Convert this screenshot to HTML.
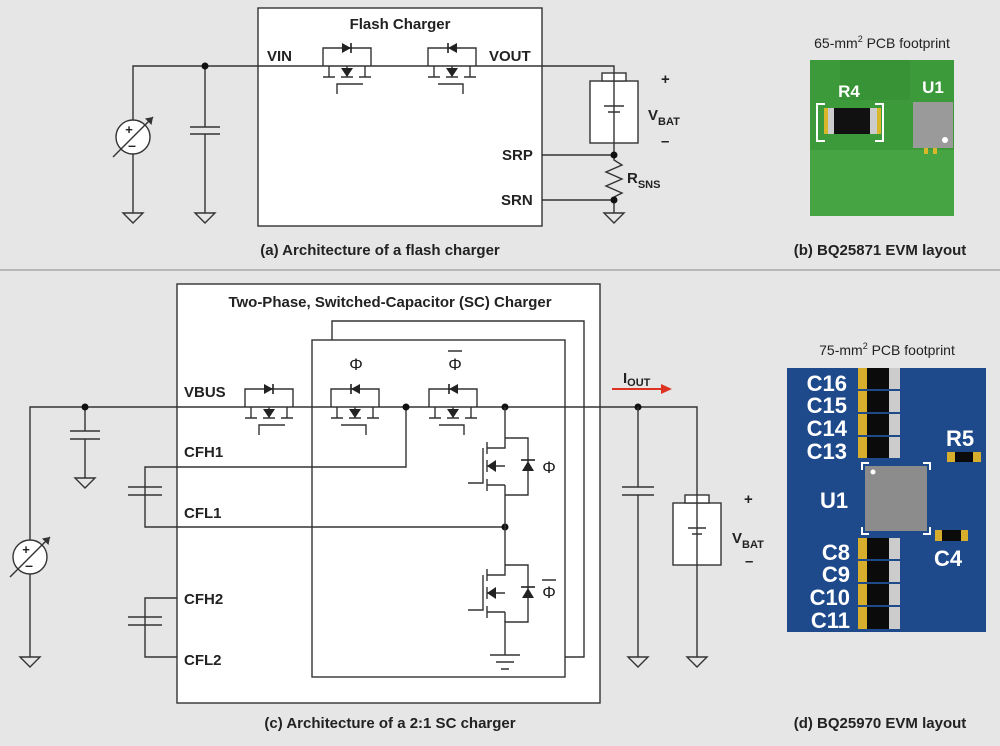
<!DOCTYPE html>
<html><head><meta charset="utf-8"><style>
html,body{margin:0;padding:0;background:#e6e6e6}
svg{display:block}
text{font-family:"Liberation Sans",Arial,sans-serif}
.l{font-weight:bold;font-size:15px;fill:#222}
.cap{font-family:"Liberation Sans Narrow","Liberation Sans",sans-serif;font-weight:bold;font-size:15px;fill:#222}
.pcb{font-family:"Liberation Sans Narrow","Liberation Sans",sans-serif;font-size:14px;fill:#222}
.w{fill:none;stroke:#333;stroke-width:1.4}
.pl{font-weight:bold;fill:#fff}
</style></head><body>
<svg width="1000" height="746" viewBox="0 0 1000 746" xmlns="http://www.w3.org/2000/svg">
<defs>
<g id="gnd"><path d="M-10 0H10L0 10Z" fill="none" stroke="#333" stroke-width="1.4"/></g>
<g id="src"><circle r="17" fill="#fff" stroke="#333" stroke-width="1.4"/><path d="M-20 20L20-20" stroke="#333" stroke-width="1.4"/><path d="M20-20l-8 1.5l6.5 6.5z" fill="#333"/><text x="-4" y="-3" font-size="13" font-weight="bold" text-anchor="middle" fill="#222">+</text><text x="-1" y="13" font-size="14" font-weight="bold" text-anchor="middle" fill="#222">–</text></g>
<g id="body"><path class="w" d="M-24 0V-18H24V0M-18 0V11M0 0V11M18 0V11M-24 11H-12M-6 11H6M12 11H24"/><path d="M-6 2h12l-6 9z" fill="#222"/></g>
<g id="fetR"><use href="#body"/><path d="M-5-23v10l9-5z" fill="#222"/><path d="M4-23v10" stroke="#222" stroke-width="1.6"/><path class="w" d="M-10 28V18H16"/></g>
<g id="fetL"><use href="#body"/><path d="M5-23v10l-9-5z" fill="#222"/><path d="M-4-23v10" stroke="#222" stroke-width="1.6"/><path class="w" d="M-14 18H11V28"/></g>
<g id="fetV"><path class="w" d="M0 0H23V57H0M0 0V10H-18M0 47H-18M0 28H-18M-18 4V16M-18 22V34M-18 41V53M-22 10V45H-37M0 47V57"/><path d="M-18 28l9-6v12z" fill="#222"/><path d="M17 33h12l-6-10z" fill="#222"/><path d="M16 22h14" stroke="#222" stroke-width="1.6"/></g>
<g id="bat"><rect x="-24" y="0" width="48" height="62" fill="#fff" stroke="#333" stroke-width="1.4"/><rect x="-12" y="-8" width="24" height="8" fill="#fff" stroke="#333" stroke-width="1.4"/></g>
</defs>

<!-- ===== TOP ===== -->
<rect x="258" y="8" width="284" height="218" fill="#fff" stroke="#333" stroke-width="1.4"/>
<text x="400" y="29" class="l" text-anchor="middle">Flash Charger</text>
<use href="#bat" x="614" y="81"/>
<path class="w" d="M133 120V66H614V155M205 66V127M190 127H220M190 134H220M205 134V213M133 154V213"/>
<circle cx="205" cy="66" r="3.5" fill="#111"/>
<use href="#src" x="133" y="137"/>
<use href="#gnd" x="133" y="213"/><use href="#gnd" x="205" y="213"/>
<use href="#fetR" x="347" y="66"/>
<use href="#fetL" x="452" y="66"/>
<text x="267" y="61" class="l">VIN</text>
<text x="489" y="61" class="l">VOUT</text>
<text x="502" y="160" class="l">SRP</text>
<text x="501" y="205" class="l">SRN</text>
<path class="w" d="M604 106H624M608 112H620M542 155H614M542 200H614M614 155V160L622 165L606 172L622 179L606 186L622 193L614 197V213"/>
<circle cx="614" cy="155" r="3.5" fill="#111"/><circle cx="614" cy="200" r="3.5" fill="#111"/>
<use href="#gnd" x="614" y="213"/>
<text x="661" y="84" class="l">+</text>
<text x="661" y="146" class="l">–</text>
<text x="648" y="120" class="l" font-size="17">V<tspan font-size="11" dy="5">BAT</tspan></text>
<text x="627" y="183" class="l" font-size="16">R<tspan font-size="11" dy="5">SNS</tspan></text>
<text x="380" y="255" class="cap" text-anchor="middle">(a) Architecture of a flash charger</text>
<text x="880" y="255" class="cap" text-anchor="middle">(b) BQ25871 EVM layout</text>
<text x="882" y="48" class="pcb" text-anchor="middle">65-mm<tspan font-size="9" dy="-6">2</tspan><tspan dy="6"> PCB footprint</tspan></text>
<rect x="810" y="60" width="144" height="156" fill="#3d9a3a"/>
<rect x="810" y="150" width="144" height="66" fill="#46a443"/>
<rect x="840" y="60" width="70" height="40" fill="#379336"/>
<text x="849" y="97" class="pl" font-size="17" text-anchor="middle">R4</text>
<text x="933" y="93" class="pl" font-size="17" text-anchor="middle">U1</text>
<rect x="824" y="108" width="4" height="26" fill="#d9b62a"/>
<rect x="828" y="108" width="6" height="26" fill="#ccc"/>
<rect x="834" y="108" width="36" height="26" fill="#111"/>
<rect x="870" y="108" width="7" height="26" fill="#ccc"/>
<rect x="877" y="108" width="4" height="26" fill="#d9b62a"/>
<path d="M825 104H817V141H825M875 104H883V141H875" fill="none" stroke="#fff" stroke-width="2"/>
<rect x="913" y="102" width="40" height="46" fill="#9a9a9a"/>
<circle cx="945" cy="140" r="3" fill="#fff"/>
<rect x="924" y="148" width="4" height="6" fill="#d9b62a"/><rect x="933" y="148" width="4" height="6" fill="#d9b62a"/>

<line x1="0" y1="270" x2="1000" y2="270" stroke="#888" stroke-width="1"/>

<!-- ===== BOTTOM ===== -->
<rect x="177" y="284" width="423" height="419" fill="#fff" stroke="#333" stroke-width="1.4"/>
<text x="390" y="307" class="l" text-anchor="middle">Two-Phase, Switched-Capacitor (SC) Charger</text>
<rect x="312" y="340" width="253" height="337" fill="none" stroke="#333" stroke-width="1.4"/>
<path class="w" d="M332 340V321H584V657H565"/>
<use href="#bat" x="697" y="503"/>
<path class="w" d="M30 540V407H697V657M85 407V431M70 431H100M70 439H100M85 439V478M30 574V657M688 528H706M692 534H702"/>
<circle cx="85" cy="407" r="3.5" fill="#111"/>
<use href="#gnd" x="85" y="478"/><use href="#gnd" x="30" y="657"/>
<use href="#src" x="30" y="557"/>
<path class="w" d="M177 467H145V527H505M145 467V487M128 487H162M128 495H162M145 495V527M177 467H406V407M177 598H145V657H177M145 598V617M128 617H162M128 625H162M145 625V657"/>
<use href="#fetR" x="269" y="407"/>
<use href="#fetL" x="355" y="407"/>
<use href="#fetL" x="453" y="407"/>
<circle cx="406" cy="407" r="3.5" fill="#111"/><circle cx="505" cy="407" r="3.5" fill="#111"/><circle cx="505" cy="527" r="3.5" fill="#111"/>
<path class="w" d="M505 407V438M505 495V565M505 621V655M490 655H520M496 662H514M501 669H509"/>
<use href="#fetV" x="505" y="438"/>
<use href="#fetV" x="505" y="565"/>
<text x="356" y="370" font-family="Liberation Serif,serif" font-size="17" text-anchor="middle" fill="#222">Φ</text>
<text x="455" y="370" font-family="Liberation Serif,serif" font-size="17" text-anchor="middle" fill="#222">Φ</text>
<line x1="448" y1="351" x2="462" y2="351" stroke="#222" stroke-width="1.4"/>
<text x="549" y="473" font-family="Liberation Serif,serif" font-size="17" text-anchor="middle" fill="#222">Φ</text>
<text x="549" y="598" font-family="Liberation Serif,serif" font-size="17" text-anchor="middle" fill="#222">Φ</text>
<line x1="542" y1="580" x2="556" y2="580" stroke="#222" stroke-width="1.4"/>
<text x="184" y="397" class="l">VBUS</text>
<text x="184" y="457" class="l">CFH1</text>
<text x="184" y="518" class="l">CFL1</text>
<text x="184" y="604" class="l">CFH2</text>
<text x="184" y="665" class="l">CFL2</text>
<circle cx="638" cy="407" r="3.5" fill="#111"/>
<path class="w" d="M638 407V487M622 487H654M622 495H654M638 495V657"/>
<use href="#gnd" x="638" y="657"/><use href="#gnd" x="697" y="657"/>
<path d="M612 389H662" stroke="#d32" stroke-width="2"/><path d="M672 389l-11-5v10z" fill="#d32"/>
<text x="623" y="383" class="l" font-size="15">I<tspan font-size="11" dy="3">OUT</tspan></text>
<text x="744" y="504" class="l">+</text>
<text x="745" y="566" class="l">–</text>
<text x="732" y="543" class="l" font-size="17">V<tspan font-size="11" dy="5">BAT</tspan></text>
<text x="390" y="728" class="cap" text-anchor="middle">(c) Architecture of a 2:1 SC charger</text>
<text x="880" y="728" class="cap" text-anchor="middle">(d) BQ25970 EVM layout</text>
<text x="887" y="355" class="pcb" text-anchor="middle">75-mm<tspan font-size="9" dy="-6">2</tspan><tspan dy="6"> PCB footprint</tspan></text>
<rect x="787" y="368" width="199" height="264" fill="#1e4a8c"/>
<g font-size="22">
<text x="847" y="391" class="pl" text-anchor="end">C16</text>
<text x="847" y="413" class="pl" text-anchor="end">C15</text>
<text x="847" y="436" class="pl" text-anchor="end">C14</text>
<text x="847" y="459" class="pl" text-anchor="end">C13</text>
<text x="850" y="560" class="pl" text-anchor="end">C8</text>
<text x="850" y="582" class="pl" text-anchor="end">C9</text>
<text x="850" y="605" class="pl" text-anchor="end">C10</text>
<text x="850" y="628" class="pl" text-anchor="end">C11</text>
<text x="834" y="508" class="pl" text-anchor="middle">U1</text>
<text x="960" y="446" class="pl" text-anchor="middle">R5</text>
<text x="948" y="566" class="pl" text-anchor="middle">C4</text>
</g>
<rect x="858" y="368" width="42" height="90" fill="#d7ae2c"/>
<rect x="888" y="368" width="12" height="90" fill="#ccc"/>
<rect x="867" y="368" width="22" height="90" fill="#0b0b0b"/>
<rect x="858" y="538" width="42" height="91" fill="#d7ae2c"/>
<rect x="888" y="538" width="12" height="91" fill="#ccc"/>
<rect x="867" y="538" width="22" height="91" fill="#0b0b0b"/>
<path d="M858 390H900M858 413H900M858 436H900M858 560H900M858 583H900M858 606H900" stroke="#1e4a8c" stroke-width="2"/>
<rect x="865" y="466" width="62" height="65" fill="#8c8c8c"/>
<path d="M862 470V463H869M930 470V463H923M862 527V534H869M930 527V534H923" fill="none" stroke="#fff" stroke-width="2"/>
<circle cx="873" cy="472" r="2.5" fill="#fff"/>
<rect x="947" y="452" width="34" height="10" fill="#d7ae2c"/><rect x="955" y="452" width="18" height="10" fill="#0b0b0b"/>
<rect x="935" y="530" width="33" height="11" fill="#d7ae2c"/><rect x="942" y="530" width="19" height="11" fill="#0b0b0b"/>
</svg>
</body></html>
